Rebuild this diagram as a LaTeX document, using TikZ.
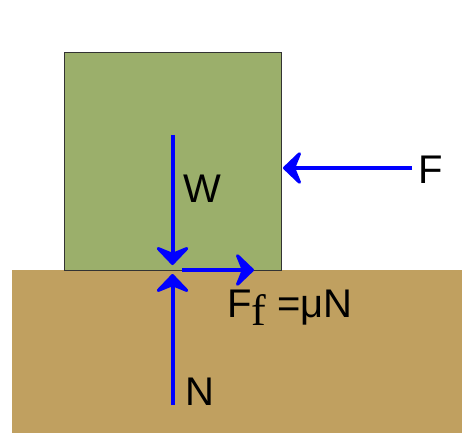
\documentclass[tikz,border=0pt]{standalone}
\usepackage{fontspec}
\setmainfont{Liberation Sans}
\newfontfamily\subfont{Liberation Serif}
\usetikzlibrary{arrows.meta, positioning}

\definecolor{boxgreen}{RGB}{155,175,107}
\definecolor{soil}{RGB}{192,160,96}

\begin{document}
\begin{tikzpicture}[x=1pt, y=-1pt,
    force/.style={-{Stealth[length=21pt, width=40pt, inset=8pt, line width=3pt, round]}, blue, line width=4pt},
    lbl/.style={inner sep=0pt, anchor=base west, font=\fontsize{40}{48}\selectfont}]
    \useasboundingbox (0,0) rectangle (474,433);
    % ground and block
    \fill[soil] (12,270) rectangle (462,433);
    \node[draw=black!80, fill=boxgreen, line width=1pt, inner sep=0pt,
          minimum width=217pt, minimum height=217pt] (box) at (172.5,161.5) {};
    % contact point and arrow ends
    \coordinate (c) at (172.5,270);
    \coordinate[above=135pt of c] (wtail);
    \coordinate[above=5pt of c] (wtip);
    \coordinate[below=135pt of c] (ntail);
    \coordinate[below=4pt of c] (ntip);
    \coordinate[right=9.5pt of c] (fftail);
    \coordinate[right=81.5pt of c] (fftip);
    \coordinate (ptip) at (283,168);
    \coordinate[right=129pt of ptip] (ptail);
    % forces
    \draw[force] (wtail) -- (wtip);
    \draw[force] (ntail) -- (ntip);
    \draw[force] (fftail) -- (fftip);
    \draw[force] (ptail) -- (ptip);
    % labels
    \node[lbl] (w) at (183,202) {W};
    \node[lbl] (p) at (418,183) {F};
    \node[lbl] (n) at (185,405) {N};
    \node[lbl] (ff) at (227,317) {F{\subfont\fontsize{44}{50}\selectfont\raisebox{-8pt}{f}} =μN};
\end{tikzpicture}
\end{document}
